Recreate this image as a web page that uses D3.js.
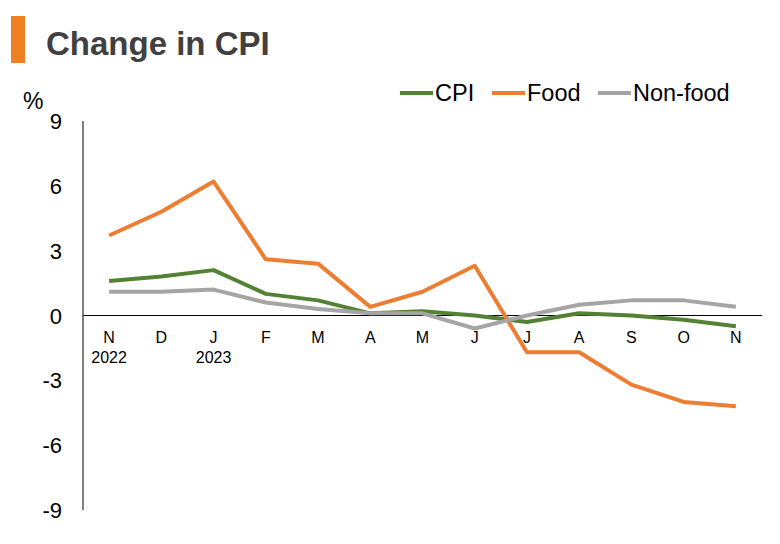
<!DOCTYPE html>
<html>
<head>
<meta charset="utf-8">
<script src="https://cdn.jsdelivr.net/npm/d3@7"></script>
<style>
  body { margin: 0; background: #fff; }
  svg { font-family: "Liberation Sans", Arial, sans-serif; }
</style>
</head>
<body>
<svg id="chart" width="780" height="544"></svg>
<script>
// chart data
var months = ["N", "D", "J", "F", "M", "A", "M", "J", "J", "A", "S", "O", "N"];
var years = ["2022", "", "2023", "", "", "", "", "", "", "", "", "", ""];
var cpi = [1.6, 1.8, 2.1, 1.0, 0.7, 0.1, 0.2, 0.0, -0.3, 0.1, 0.0, -0.2, -0.5];
var food = [3.7, 4.8, 6.2, 2.6, 2.4, 0.4, 1.1, 2.3, -1.7, -1.7, -3.2, -4.0, -4.2];
var nonFood = [1.1, 1.1, 1.2, 0.6, 0.3, 0.1, 0.1, -0.6, 0.0, 0.5, 0.7, 0.7, 0.4];
var yTicks = [9, 6, 3, 0, -3, -6, -9];

var series = [
    { name: "CPI", values: cpi, color: "#548235" },
    { name: "Food", values: food, color: "#ED7D31" },
    { name: "Non-food", values: nonFood, color: "#A5A5A5" }
];

var svg = d3.select("#chart");

// title
svg.append("rect")
    .attr("x", 11).attr("y", 16)
    .attr("width", 14).attr("height", 47)
    .attr("fill", "#F07F22");
svg.append("text")
    .attr("x", 46).attr("y", 55)
    .attr("font-size", 33)
    .attr("font-weight", "bold")
    .attr("fill", "#404040")
    .text("Change in CPI");

var plotLeft = 83, plotRight = 762, plotTop = 121, plotBottom = 510;

var idx = months.map(function (d, i) { return i; });
var xScale = d3.scaleBand()
    .domain(idx)
    .range([plotLeft, plotRight]);
var yScale = d3.scaleLinear()
    .domain([-9, 9])
    .range([plotBottom, plotTop]);

function cx(i) {
    return xScale(i) + xScale.bandwidth() / 2;
}

// y axis
svg.append("line")
    .attr("x1", plotLeft).attr("x2", plotLeft)
    .attr("y1", yScale(9)).attr("y2", yScale(-9))
    .attr("stroke", "#000").attr("stroke-width", 1);

svg.selectAll(".ytick")
    .data(yTicks)
    .enter().append("text")
    .attr("class", "ytick")
    .attr("x", 62)
    .attr("y", function (d) { return yScale(d) + 8; })
    .attr("text-anchor", "end")
    .attr("font-size", 22)
    .attr("fill", "#000")
    .text(function (d) { return d; });

svg.append("text")
    .attr("x", 23).attr("y", 109)
    .attr("font-size", 23)
    .text("%");

// x axis along zero
svg.append("line")
    .attr("x1", plotLeft).attr("x2", plotRight)
    .attr("y1", yScale(0)).attr("y2", yScale(0))
    .attr("stroke", "#000").attr("stroke-width", 1);

svg.selectAll(".xmonth")
    .data(months)
    .enter().append("text")
    .attr("class", "xmonth")
    .attr("x", function (d, i) { return cx(i); })
    .attr("y", yScale(0) + 27)
    .attr("text-anchor", "middle")
    .attr("font-size", 16)
    .text(function (d) { return d; });

svg.selectAll(".xyear")
    .data(years)
    .enter().append("text")
    .attr("class", "xyear")
    .attr("x", function (d, i) { return cx(i); })
    .attr("y", yScale(0) + 47)
    .attr("text-anchor", "middle")
    .attr("font-size", 16)
    .text(function (d) { return d; });

// lines
var line = d3.line()
    .x(function (d, i) { return cx(i); })
    .y(function (d) { return yScale(d); });

svg.selectAll(".series")
    .data(series)
    .enter().append("path")
    .attr("class", "series")
    .attr("d", function (d) { return line(d.values); })
    .attr("fill", "none")
    .attr("stroke", function (d) { return d.color; })
    .attr("stroke-width", 4)
    .attr("stroke-linejoin", "round");

// legend
var legendX = [400, 492, 598];
var legend = svg.selectAll(".legend")
    .data(series)
    .enter().append("g")
    .attr("class", "legend")
    .attr("transform", function (d, i) { return "translate(" + legendX[i] + ",93)"; });
legend.append("line")
    .attr("x1", 0).attr("x2", 33)
    .attr("y1", 0).attr("y2", 0)
    .attr("stroke", function (d) { return d.color; })
    .attr("stroke-width", 4);
legend.append("text")
    .attr("x", 35).attr("y", 8)
    .attr("font-size", 23.5)
    .text(function (d) { return d.name; });
</script>
</body>
</html>
